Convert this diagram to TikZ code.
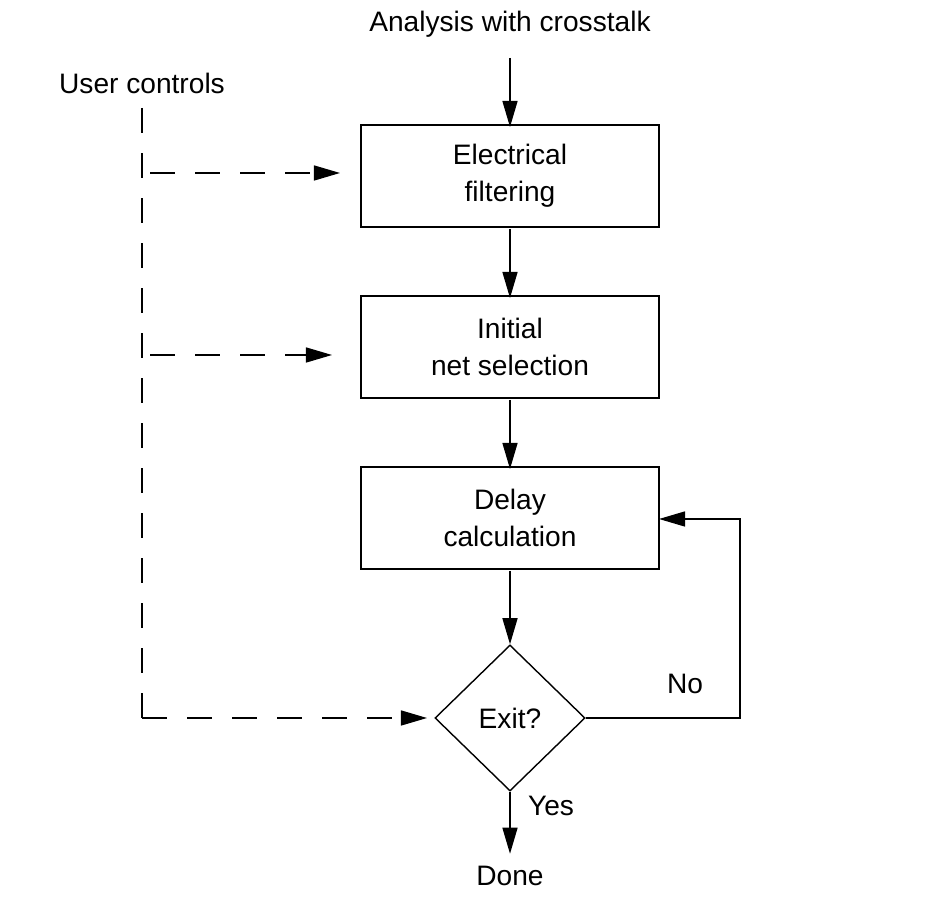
\documentclass[tikz,border=0pt]{standalone}
\usepackage{fontspec}
\setmainfont{Liberation Sans}
\usetikzlibrary{positioning,shapes,arrows.meta}
\begin{document}
\begin{tikzpicture}[x=0.01cm,y=-0.01cm,thin,font=\fontsize{8}{10.5}\selectfont,
  box/.style={draw,minimum width=2.98cm,minimum height=1.02cm,align=center},
  decide/.style={draw,diamond,minimum width=1.5cm,minimum height=1.46cm,inner sep=0pt},
  arr/.style={-{Triangle[length=2.6mm,width=1.5mm]}},
  ctl/.style={arr,dash pattern=on 2.5mm off 2mm}]
   \useasboundingbox (0,0) rectangle (927,913);
   \node (top) at (510,24) {Analysis with crosstalk};
   \node (user) at (142,83) {User controls};
   \node[box] (filt) at (510,176) {Electrical\\filtering};
   \node[box] (sel) at (510,347) {Initial\\net selection};
   \node[box] (delay) at (510,518) {Delay\\calculation};
   \node[decide] (exit) at (510,718) {Exit?};
   \node (done) at (510,876) {Done};
   \node (no) at (685,684) {No};
   \node (yes) at (551,806) {Yes};
   \coordinate (c1) at (142,108);
   \coordinate (c2) at (142,718);
   \coordinate (c3) at (740,718);
   \path[draw,arr] (510,58) -- (510,127); % input
   \draw[arr] (510,229) -- (510,298);
   \draw[arr] (510,400) -- (510,469);
   \draw[arr] (510,571) -- (exit);
   \draw[arr] (exit) -- (done);
   \draw[arr] (exit.east) -- (c3) |- (659,519); % loop back
   \draw[dash pattern=on 2.5mm off 2mm] (c1) -- (c2);
   \draw[ctl] (150,173) -- (340,173);
   \draw[ctl] (150,355) -- (332,355);
   \draw[ctl] (c2) -- (427,718);
\end{tikzpicture}
\end{document}
